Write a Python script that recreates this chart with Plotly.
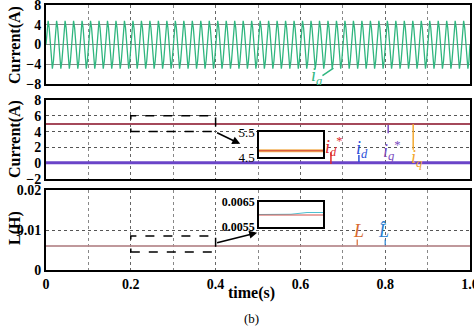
import plotly.graph_objects as go

# ---- data -------------------------------------------------------------
# phase current i_a: one 20 ms period sampled 8 times, repeated over 1 s
ia_period = 0.02
ia_cycle = [0.0, 3.4, 4.8, 3.4, 0.0, -3.4, -4.9, -3.4]
n_cycles = 50

# dq currents (A)
t_dq = [0.0, 0.2, 0.4, 0.6, 0.8, 1.0]
id_ref = [4.95, 4.95, 4.95, 4.95, 4.95, 4.95]
iq_meas = [0.05, 0.05, 0.05, 0.05, 0.05, 0.05]
# zoomed window of i_d (0.4 s - 0.6 s)
t_zoom = [0.4, 0.45, 0.5, 0.55, 0.6]
id_zoom = [4.75, 4.75, 4.75, 4.75, 4.75]

# inductance (H)
t_L = [0.0, 0.2, 0.4, 0.6, 0.8, 1.0]
L_true = [0.0060, 0.0060, 0.0060, 0.0060, 0.0060, 0.0060]
L_est = [0.0060, 0.0060, 0.0060, 0.0060, 0.0060, 0.0060]
L_true_zoom = [0.00598, 0.00598, 0.00598, 0.00598, 0.00598]
L_est_zoom = [0.00600, 0.00600, 0.00601, 0.00608, 0.00608]

x_ticks = [0, 0.2, 0.4, 0.6, 0.8, 1.0]
x_ticktext = ["0", "0.2", "0.4", "0.6", "0.8", "1.0"]

# ---- build time series for i_a ---------------------------------------
n_s = len(ia_cycle)
t_a, ia = [], []
for k in range(n_cycles):
    for j in range(n_s):
        t_a.append(k * ia_period + j * ia_period / n_s)
        ia.append(ia_cycle[j])
t_a.append(n_cycles * ia_period)
ia.append(ia_cycle[0])

SERIF = "Liberation Serif, Times New Roman, serif"
W, H = 474, 332


def px(xp):
    return xp / W


def py(yp):
    return 1 - yp / H


fig = go.Figure()

# panel 1: i_a
fig.add_trace(go.Scatter(x=t_a, y=ia, mode="lines", line=dict(color="#2fb67f", width=1.3),
                         xaxis="x", yaxis="y", showlegend=False))
# panel 2: dq currents
fig.add_trace(go.Scatter(x=t_dq, y=id_ref, mode="lines", line=dict(color="#a4485a", width=2),
                         xaxis="x2", yaxis="y2", showlegend=False))
fig.add_trace(go.Scatter(x=t_dq, y=iq_meas, mode="lines", line=dict(color="#6a44c8", width=3),
                         xaxis="x2", yaxis="y2", showlegend=False))
# panel 3: inductance
fig.add_trace(go.Scatter(x=t_L, y=L_est, mode="lines", line=dict(color="#8fd6e6", width=1.6),
                         xaxis="x3", yaxis="y3", showlegend=False))
fig.add_trace(go.Scatter(x=t_L, y=L_true, mode="lines", line=dict(color="#d4504a", width=1),
                         xaxis="x3", yaxis="y3", showlegend=False))
# inset in panel 2
fig.add_trace(go.Scatter(x=t_zoom, y=id_zoom, mode="lines", line=dict(color="#f2b25a", width=3),
                         xaxis="x4", yaxis="y4", showlegend=False))
fig.add_trace(go.Scatter(x=t_zoom, y=id_zoom, mode="lines", line=dict(color="#d0403a", width=1),
                         xaxis="x4", yaxis="y4", showlegend=False))
# inset in panel 3
fig.add_trace(go.Scatter(x=t_zoom, y=L_est_zoom, mode="lines", line=dict(color="#4fc0d0", width=1),
                         xaxis="x5", yaxis="y5", showlegend=False))
fig.add_trace(go.Scatter(x=t_zoom, y=L_true_zoom, mode="lines", line=dict(color="#d4504a", width=1),
                         xaxis="x5", yaxis="y5", showlegend=False))

x_left, x_right = px(46), px(470)
tickfont = dict(family=SERIF, size=14, color="black", weight="bold")
frame = dict(showline=True, linecolor="black", linewidth=2, mirror=True, ticks="", ticklen=0,
             zeroline=False, automargin=False)


def xax(anchor, labels):
    return dict(domain=[x_left, x_right], anchor=anchor, range=[0, 1.0],
                tickvals=x_ticks, ticktext=x_ticktext, showticklabels=labels,
                tickfont=dict(tickfont), ticklabeloverflow="allow",
                showgrid=True, gridcolor="#666", griddash="dot", gridwidth=1,
                minor=dict(dtick=0.1, tick0=0, showgrid=True, gridcolor="#888", gridwidth=1),
                **frame)


inset_frame = dict(showgrid=False, showline=True, linecolor="black", linewidth=1.5, mirror=True,
                   ticks="", ticklen=0, zeroline=False, automargin=False)

fig.update_layout(
    width=W, height=H, margin=dict(l=0, r=0, t=0, b=0, autoexpand=False),
    font=dict(family=SERIF, color="black"),
    paper_bgcolor="white", plot_bgcolor="white",
    xaxis=xax("y", False),
    xaxis2=xax("y2", False),
    xaxis3=xax("y3", True),
    yaxis=dict(domain=[py(84), py(5)], anchor="x", range=[-8, 8], tickvals=[-8, -4, 0, 4, 8],
               tickfont=dict(tickfont), ticklabeloverflow="allow",
               showgrid=True, gridcolor="#888", gridwidth=1, **frame),
    yaxis2=dict(domain=[py(179), py(100)], anchor="x2", range=[-2, 8], tickvals=[-2, 0, 2, 4, 6, 8],
                tickfont=dict(tickfont), ticklabeloverflow="allow",
                showgrid=True, gridcolor="#555", griddash="dot", gridwidth=1, **frame),
    yaxis3=dict(domain=[py(270), py(190)], anchor="x3", range=[0, 0.02], tickvals=[0, 0.01, 0.02],
                ticktext=["0", "0.01", "0.02"], tickfont=dict(tickfont), ticklabeloverflow="allow",
                showgrid=True, gridcolor="#555", griddash="dot", gridwidth=1, **frame),
    xaxis4=dict(domain=[px(259), px(323)], anchor="y4", range=[0.4, 0.6], showticklabels=False,
                **inset_frame),
    yaxis4=dict(domain=[py(157), py(132)], anchor="x4", range=[4.5, 5.5], tickvals=[4.5, 5.5],
                ticktext=["4.5", "5.5"], tickfont=dict(family=SERIF, size=13, color="black"),
                ticklabelstandoff=0, ticklabeloverflow="allow", **inset_frame),
    xaxis5=dict(domain=[px(259), px(323)], anchor="y5", range=[0.4, 0.6], showticklabels=False,
                **inset_frame),
    yaxis5=dict(domain=[py(227), py(202)], anchor="x5", range=[0.0055, 0.0065], tickvals=[0.0055, 0.0065],
                ticktext=["0.0055", "0.0065"],
                tickfont=dict(family=SERIF, size=12, color="black", weight="bold"),
                ticklabelstandoff=0, ticklabeloverflow="allow", **inset_frame),
)

# dashed zoom windows
fig.add_shape(type="rect", xref="x2", yref="y2", x0=0.2, x1=0.4, y0=4.0, y1=6.0,
              line=dict(color="black", width=1.5, dash="dash"))
fig.add_shape(type="rect", xref="x3", yref="y3", x0=0.2, x1=0.4, y0=0.0045, y1=0.0085,
              line=dict(color="black", width=1.5, dash="dash"))

# arrows from the zoom windows to the insets
fig.add_annotation(xref="x2", yref="y2", axref="x2", ayref="y2", x=0.458, y=2.45, ax=0.4, ay=3.95,
                   text="", showarrow=True, arrowhead=2, arrowsize=1, arrowwidth=1.6, arrowcolor="black")
fig.add_annotation(xref="x3", yref="y3", axref="x3", ayref="y3", x=0.498, y=0.0093, ax=0.4, ay=0.0067,
                   text="", showarrow=True, arrowhead=2, arrowsize=1, arrowwidth=1.6, arrowcolor="black")


# signal labels with pointer lines
def pointer(xref, yref, x0, y0, x1, y1, color, width=1.5):
    fig.add_shape(type="line", xref=xref, yref=yref, x0=x0, y0=y0, x1=x1, y1=y1,
                  line=dict(color=color, width=width))


def label(xref, yref, x, y, text, color, size=18):
    fig.add_annotation(xref=xref, yref=yref, x=x, y=y, text=text, showarrow=False,
                       xanchor="center", yanchor="middle",
                       font=dict(family=SERIF, size=size, color=color))


label("x", "y", 0.637, -6.5, "<i>i<sub>a</sub></i>", "#2fb67f")
pointer("x", "y", 0.652, -6.3, 0.678, -4.8, "#2fb67f")

pointer("x2", "y2", 0.672, -0.1, 0.672, 1.4, "#e02a2a")
label("x2", "y2", 0.68, 2.1, "<i>i<sub>d</sub></i><sup>*</sup>", "#e02a2a")
pointer("x2", "y2", 0.738, 0.15, 0.738, 1.05, "#2b4fd8")
label("x2", "y2", 0.745, 1.7, "<i>i<sub>d</sub></i>", "#2b4fd8")
pointer("x2", "y2", 0.807, 4.85, 0.807, 3.8, "#7a4cc0")
label("x2", "y2", 0.815, 1.6, "<i>i<sub>q</sub></i><sup>*</sup>", "#7a4cc0")
pointer("x2", "y2", 0.866, 4.95, 0.866, 1.7, "#f2a830")
label("x2", "y2", 0.874, 0.55, "<i>i<sub>q</sub></i>", "#f2a830")

label("x3", "y3", 0.737, 0.0098, "<i>L</i>", "#d86a30")
pointer("x3", "y3", 0.734, 0.0062, 0.734, 0.0076, "#d86a30", 1.2)
label("x3", "y3", 0.797, 0.0098, "<i>L̂</i>", "#2a80d0")
pointer("x3", "y3", 0.800, 0.0062, 0.800, 0.0076, "#2a80d0", 1.2)

# axis titles
title_font = dict(family=SERIF, size=16, color="black", weight="bold")


def paper_text(x, y, text, font, angle=0):
    fig.add_annotation(xref="paper", yref="paper", x=px(x), y=py(y), text=text,
                       textangle=angle, showarrow=False, xanchor="center", yanchor="middle",
                       font=font)


paper_text(15, 45, "Current(A)", title_font, -90)
paper_text(15, 139, "Current(A)", title_font, -90)
paper_text(15, 228, "L(H)", title_font, -90)
paper_text(252, 293, "time(s)", title_font)
paper_text(252, 318, "(b)", dict(family=SERIF, size=13, color="black"))

fig.write_html("out.html")
